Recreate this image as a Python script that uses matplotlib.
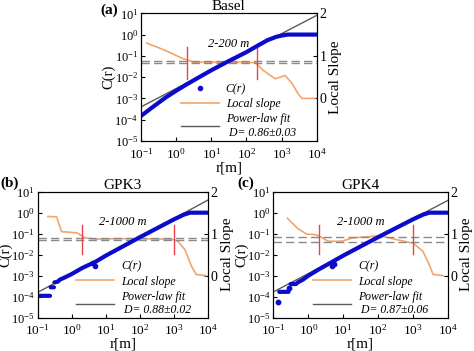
import numpy as np
import matplotlib.pyplot as plt
from matplotlib.lines import Line2D

plt.rcParams['font.family'] = ['Liberation Serif', 'DejaVu Serif']
plt.rcParams['mathtext.fontset'] = 'stix'

nan = np.nan

# --- Basel (a) ---
r_a = [0.1, 0.2, 0.5, 1, 2, 5, 10, 30, 100, 200, 400, 700, 1000, 1500, 10000]
C_a = [1.5e-4, 3.6e-4, 1.1e-3, 2.3e-3, 4.6e-3, 1.1e-2, 2.1e-2, 5.5e-2, 0.15, 0.29, 0.55, 0.78, 0.9, 1.0, 1.0]
rs_a = [0.145, 0.3, 0.7, 1.6, 2, 3.1, 10, 50, 180, 300, 660, 1260, 2000, 3000, 3800, 9000]
s_a = [1.30, 1.2, 1.07, 0.93, 0.91, 0.85, 0.85, 0.85, 0.84, 0.66, 0.46, 0.54, 0.35, 0.1, 0.0, 0.0]
fit_r_a = [0.1, 1e4]
fit_C_a = [4e-4, 8.0]
D_a, err_a = 0.86, 0.03
cut_a = [2, 200]
red_a = (0.45, 1.2)
txt_a = '2-200 m'

# --- GPK3 (b) ---
r_b = [0.11, 0.23, nan, 0.24, 0.3, nan, 0.31, 0.39, 0.45, 0.6, 1, 2, 5, 10, 100, 1000, 2000, 3000, 10000]
C_b = [1.1e-4, 1.1e-4, nan, 2.8e-4, 2.8e-4, nan, 4.8e-4, 5.2e-4, 6.5e-4, 8e-4, 1.2e-3, 2.3e-3, 4.6e-3, 9e-3, 6.8e-2, 0.48, 0.82, 1.0, 1.0]
dot_r_b = [4.3]
dot_C_b = [4.2e-3]
rs_b = [0.2, 0.36, 0.5, 1.4, 2.5, 5, 20, 100, 500, 950, 1300, 2100, 3300, 4500, 9000]
s_b = [1.41, 1.40, 1.05, 1.02, 0.9, 0.87, 0.88, 0.88, 0.87, 0.86, 0.82, 0.62, 0.22, 0.03, 0.0]
fit_r_b = [0.1, 1e4]
fit_C_b = [1.6e-4, 4.0]
D_b, err_b = 0.88, 0.02
cut_b = [2, 1000]
red_b = (0.52, 1.2)
txt_b = '2-1000 m'

# --- GPK4 (c) ---
r_c = [0.146, 0.27, nan, 0.31, 0.44, 0.5, 0.7, 1, 2, 5, 10, 100, 1000, 2000, 3000, 10000]
C_c = [1.7e-4, 1.7e-4, nan, 4e-4, 4e-4, 4.8e-4, 6.5e-4, 1.0e-3, 2.0e-3, 4.7e-3, 9e-3, 6.8e-2, 0.48, 0.82, 1.0, 1.0]
dot_r_c = [0.137, 0.28, 5.4]
dot_C_c = [5.7e-5, 2.6e-4, 3.6e-3]
rs_c = [0.25, 0.5, 0.9, 1.5, 2, 3.7, 9, 19, 112, 340, 810, 1000, 1950, 3000, 3800, 7500]
s_c = [1.37, 1.12, 0.99, 0.98, 0.95, 0.82, 0.82, 0.9, 0.95, 0.86, 0.79, 0.78, 0.58, 0.25, 0.03, 0.0]
fit_r_c = [0.1, 1e4]
fit_C_c = [1.7e-4, 3.8]
D_c, err_c = 0.87, 0.06
cut_c = [2, 1000]
red_c = (0.52, 1.2)
txt_c = '2-1000 m'

BLUE = '#0b0bcc'
ORANGE = '#f3a56b'
GRAY = '#5a5a5a'
DASH = '#8a8a8a'
RED = '#e8434c'


def panel(ax, title, r, C, dr, dC, rs, s, fr, fC, D, err, cuts, red, txt, ylab_x):
    ax2 = ax.twinx()
    ax.set_zorder(ax2.get_zorder() + 1)
    ax.patch.set_visible(False)

    # local slope on the right axis
    ax2.plot(rs, s, color=ORANGE, lw=1.2)
    for d in (D + err, D - err):
        ax2.axhline(d, color=DASH, ls=(0, (6, 3)), lw=1.0)
    for x0 in cuts:
        ax2.plot([x0, x0], red, color=RED, lw=1.0)
    ax2.set_ylim(-1, 2)
    ax2.set_yticks([0, 1, 2])
    ax2.set_ylabel('Local Slope', fontsize=11, labelpad=2)
    ax2.tick_params(direction='in', labelsize=10, length=3, pad=2)

    # correlation integral + fit
    ax.plot(fr, fC, color=GRAY, lw=1.0)
    ax.plot(r, C, color=BLUE, lw=3.0, solid_capstyle='round')
    if dr:
        ax.plot(dr, dC, ls='none', marker='o', ms=3.2, color=BLUE)
    ax.set_xscale('log')
    ax.set_yscale('log')
    ax.set_xlim(0.1, 1e4)
    ax.set_ylim(1e-5, 1e1)
    ax.set_xticks([1e-1, 1e0, 1e1, 1e2, 1e3, 1e4])
    ax.set_yticks([1e-5, 1e-4, 1e-3, 1e-2, 1e-1, 1e0, 1e1])
    ax.minorticks_off()
    ax.tick_params(axis='y', direction='in', labelsize=9, length=3, pad=2)
    ax.tick_params(axis='x', direction='in', labelsize=9.5, length=3, pad=4)
    ax.set_xlabel('r[m]', fontsize=11, labelpad=0)
    ax.set_ylabel('C(r)', fontsize=10.5)
    ax.yaxis.set_label_coords(ylab_x, 0.5)
    ax.set_title(title, fontsize=11, pad=2)

    ax.text(0.5, 0.76, txt, transform=ax.transAxes, ha='center', va='center',
            fontsize=9, fontstyle='italic')

    handles = [Line2D([], [], ls='none', marker='o', ms=3, color=BLUE),
               Line2D([], [], color=ORANGE, lw=1.2),
               Line2D([], [], color=GRAY, lw=1.0)]
    labels = ['C(r)', 'Local slope', 'Power-law fit\n D= %.2f\u00b1%.2f' % (D, err)]
    ax.legend(handles, labels, loc='upper left', bbox_to_anchor=(0.2, 0.49),
              frameon=False, prop={'style': 'italic', 'size': 8.5},
              handlelength=3.2, labelspacing=0.25, borderaxespad=0, handletextpad=0.6)


fig = plt.figure(figsize=(4.74, 3.51), dpi=100)
ax_a = fig.add_axes([0.2975, 0.5983, 0.3707, 0.3638])
ax_b = fig.add_axes([0.0795, 0.0949, 0.3593, 0.359])
ax_c = fig.add_axes([0.577, 0.0949, 0.3675, 0.359])

panel(ax_a, 'Basel', r_a, C_a, None, None, rs_a, s_a, fit_r_a, fit_C_a,
      D_a, err_a, cut_a, red_a, txt_a, -0.145)
panel(ax_b, 'GPK3', r_b, C_b, dot_r_b, dot_C_b, rs_b, s_b, fit_r_b, fit_C_b,
      D_b, err_b, cut_b, red_b, txt_b, -0.147)
panel(ax_c, 'GPK4', r_c, C_c, dot_r_c, dot_C_c, rs_c, s_c, fit_r_c, fit_C_c,
      D_c, err_c, cut_c, red_c, txt_c, -0.146)

fig.text(0.211, 0.97, '(a)', fontsize=11, fontweight='bold', ha='left', va='center')
fig.text(0.0, 0.479, '(b)', fontsize=11, fontweight='bold', ha='left', va='center')
fig.text(0.5, 0.479, '(c)', fontsize=11, fontweight='bold', ha='left', va='center')

fig.savefig('out.png', dpi=100)
